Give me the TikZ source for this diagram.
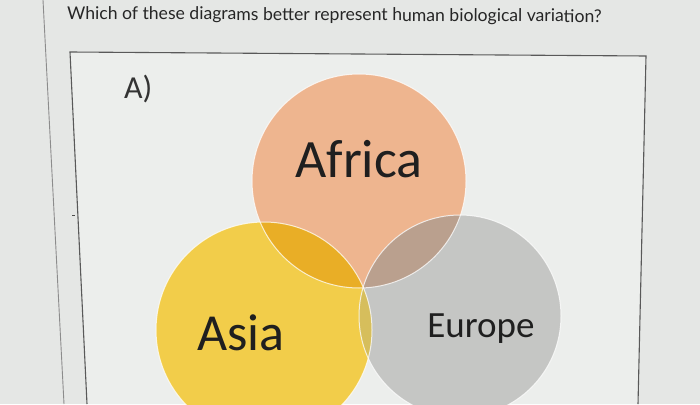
\documentclass[tikz,border=0pt]{standalone}
\usepackage{fontspec}
\setmainfont{Carlito}
\newfontfamily\qfont{Lato}
\newfontfamily\cfont{Carlito}
\begin{document}
\begin{tikzpicture}[x=1pt,y=-1pt,
  framestyle/.style={draw=black!65,line width=1.1pt},
  pagestyle/.style={draw=black!45,line width=0.9pt},
  ringline/.style={draw=white,draw opacity=0.75,line width=1pt},
  lbl/.style={text=black!88,inner sep=0pt,anchor=base}]
\definecolor{bgcol}{RGB}{229,231,229}
\definecolor{boxcol}{RGB}{236,238,236}
\definecolor{afr}{RGB}{238,181,143}
\definecolor{asi}{RGB}{242,205,74}
\definecolor{eur}{RGB}{197,198,196}
\definecolor{afas}{RGB}{233,174,38}
\definecolor{afeu}{RGB}{186,160,142}
\definecolor{aseu}{RGB}{214,190,92}
\definecolor{allthree}{RGB}{196,158,70}
\useasboundingbox (0,0) rectangle (700,404);
\fill[bgcol] (0,0) rectangle (700,404);
% box interior
\fill[boxcol] (70,52) -- (646,56) -- (638,404) -- (87,404) -- cycle;
% page edge line
\draw[pagestyle] (43,0) coordinate (p1) -- (64,404) coordinate (p2);
% frame
\coordinate (b1) at (87,404);
\coordinate (b2) at (70,52);
\coordinate (b3) at (646,56);
\coordinate (b4) at (638,404);
\draw[framestyle] (b1) -- (b2) -- (b3) -- (b4);
\draw[black!70,line width=1pt] (72,215) coordinate (t1) -- (75,215) coordinate (t2);
% question
\node[lbl,anchor=base west,rotate=-0.35,font=\qfont\fontsize{17.6}{20}\selectfont,text=black!85] (q) at (67,19) {Which of these diagrams better represent human biological variation?};
\node[lbl,anchor=base west,font=\cfont\fontsize{32}{36}\selectfont,text=black!80] (a) at (124,98) {A)};
% circles
\coordinate (cAf) at (359,181);
\coordinate (cAs) at (264,330);
\coordinate (cEu) at (460,316);
\fill[afr] (cAf) circle (107);
\fill[asi] (cAs) circle (108);
\fill[eur] (cEu) circle (101);
\begin{scope}
  \clip (cAf) circle (107);
  \fill[afas] (cAs) circle (108);
  \fill[afeu] (cEu) circle (101);
\end{scope}
\begin{scope}
  \clip (cAs) circle (108);
  \fill[aseu] (cEu) circle (101);
  \clip (cEu) circle (101);
  \fill[allthree] (cAf) circle (107);
\end{scope}
\draw[ringline] (cAf) circle (107);
\draw[ringline] (cAs) circle (108);
\draw[ringline] (cEu) circle (101);
% labels
\node[lbl,font=\cfont\fontsize{54}{60}\selectfont] (af) at (359,177) {Africa};
\node[lbl,font=\cfont\fontsize{52}{58}\selectfont] (as) at (241,350) {Asia};
\node[lbl,font=\cfont\fontsize{37}{42}\selectfont] (eu) at (481,337) {Europe};
\end{tikzpicture}
\end{document}
